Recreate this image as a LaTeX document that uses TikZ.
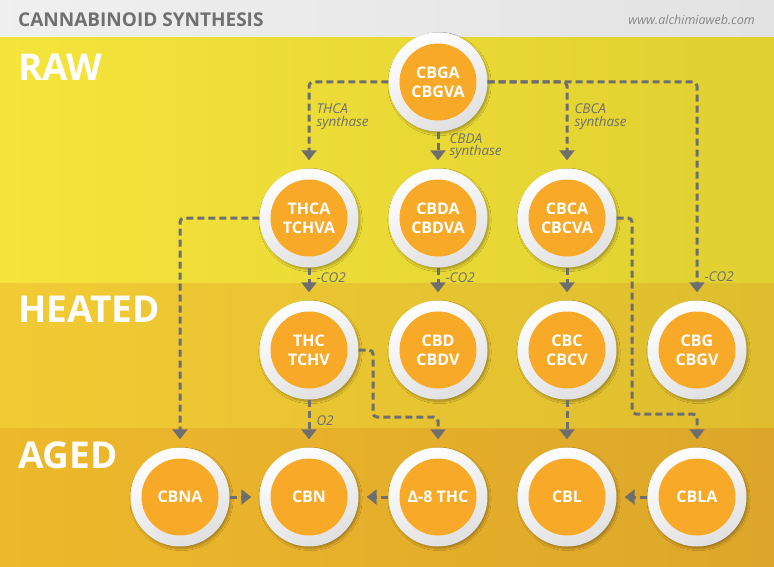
\documentclass[tikz,border=0pt]{standalone}
\usepackage{fontspec}
\setmainfont{Open Sans}
\usetikzlibrary{arrows.meta, positioning, shadows.blur}

\definecolor{pillorange}{HTML}{F8A928}
\definecolor{ringgrey}{HTML}{E0E0E0}
\definecolor{flowgrey}{HTML}{6E6E6E}
\definecolor{titlegrey}{HTML}{707070}

\begin{document}
\begin{tikzpicture}[x=1pt, y=-1pt,
    compound/.style={circle, minimum size=99pt, inner sep=0pt, draw=none,
        top color=white, bottom color=ringgrey, shading angle=25,
        blur shadow={shadow xshift=1.5pt, shadow yshift=-2pt, shadow blur steps=6, shadow opacity=30},
        path picture={\fill[pillorange] (path picture bounding box.center) circle (38.5pt);},
        font=\fontsize{16}{19}\selectfont\bfseries, text=white, align=center},
    flow/.style={-{Triangle[width=15pt, length=10pt]}, draw=flowgrey, line width=3pt,
        dash pattern=on 7pt off 4pt, rounded corners=4pt, shorten >=8pt},
    enzyme/.style={font=\fontsize{13.5}{12.5}\selectfont\itshape, text=flowgrey, align=left, inner sep=2pt},
    stage/.style={font=\fontsize{37}{37}\selectfont\bfseries, text=white, anchor=west, inner sep=0pt},
]
\useasboundingbox (0,0) rectangle (774,567);

% === BACKGROUND BANDS ===
\shade[left color=white!94!black, right color=white!89!black] (0,0) rectangle (774,38);
\shade[left color={rgb,255:red,245;green,228;blue,59}, right color={rgb,255:red,224;green,208;blue,48}] (0,38) rectangle (774,283);
\shade[left color={rgb,255:red,242;green,202;blue,52}, right color={rgb,255:red,222;green,190;blue,46}] (0,283) rectangle (774,428);
\shade[left color={rgb,255:red,238;green,184;blue,43}, right color={rgb,255:red,220;green,166;blue,42}] (0,428) rectangle (774,567);

% === HEADER ===
\node[font=\fontsize{19}{19}\selectfont\bfseries, text=titlegrey, anchor=west, inner sep=0pt] (title) at (18,20) {CANNABINOID SYNTHESIS};
\node[font=\fontsize{12.5}{12.5}\selectfont\itshape, text=titlegrey!85, anchor=east, inner sep=0pt] (site) at (755,20) {www.alchimiaweb.com};

% === STAGE LABELS ===
\node[stage] (raw) at (18,67) {RAW};
\node[stage] (heated) at (18,309) {HEATED};
\node[stage] (aged) at (18,455) {AGED};

% === RAW ===
\node[compound] (cbga) at (438,82) {CBGA\\CBGVA};
\node[compound] (thca) at (309,218) {THCA\\TCHVA};
\node[compound] (cbda) at (438,218) {CBDA\\CBDVA};
\node[compound] (cbca) at (567,218) {CBCA\\CBCVA};

% === HEATED ===
\node[compound] (thc) at (309,350) {THC\\TCHV};
\node[compound] (cbd) at (438,350) {CBD\\CBDV};
\node[compound] (cbc) at (567,350) {CBC\\CBCV};
\node[compound] (cbg) at (697,350) {CBG\\CBGV};

% === AGED ===
\node[compound] (cbna) at (180,497) {CBNA};
\node[compound] (cbn) at (309,497) {CBN};
\node[compound] (dthc) at (438,497) {Δ-8 THC};
\node[compound] (cbl) at (567,497) {CBL};
\node[compound] (cbla) at (697,497) {CBLA};

% bend points
\coordinate (thcbend) at (373,417);
\coordinate (cbcabend) at (632,414);

% === SYNTHASES ===
\draw[flow] (cbga.west) -| (thca) node[enzyme, pos=0.7, right=4pt] {THCA\\synthase};
\draw[flow] (cbga) -- (cbda) node[enzyme, pos=0.4, right=8pt] {CBDA\\synthase};
\draw[flow] (cbga.east) -| (cbca) node[enzyme, pos=0.7, right=4pt] {CBCA\\synthase};
\draw[flow] (cbga.east) -| (cbg) node[enzyme, pos=0.945, right=4pt] {-CO2};

% === DECARBOXYLATION ===
\draw[flow] (thca) -- (thc) node[enzyme, pos=0.3, right=4pt] {-CO2};
\draw[flow] (cbda) -- (cbd) node[enzyme, pos=0.3, right=4pt] {-CO2};
\draw[flow] (cbca) -- (cbc);

% === AGEING ===
\draw[flow] (thca.west) -| (cbna);
\draw[flow] (thc) -- (cbn) node[enzyme, pos=0.45, right=4pt] {O2};
\draw[flow] (thc.east) -| (thcbend) -| (dthc);
\draw[flow] (cbc) -- (cbl);
\draw[flow] (cbca.east) -| (cbcabend) -| (cbla);
\draw[flow] (cbna) -- (cbn);
\draw[flow] (dthc) -- (cbn);
\draw[flow] (cbla) -- (cbl);

\end{tikzpicture}
\end{document}
